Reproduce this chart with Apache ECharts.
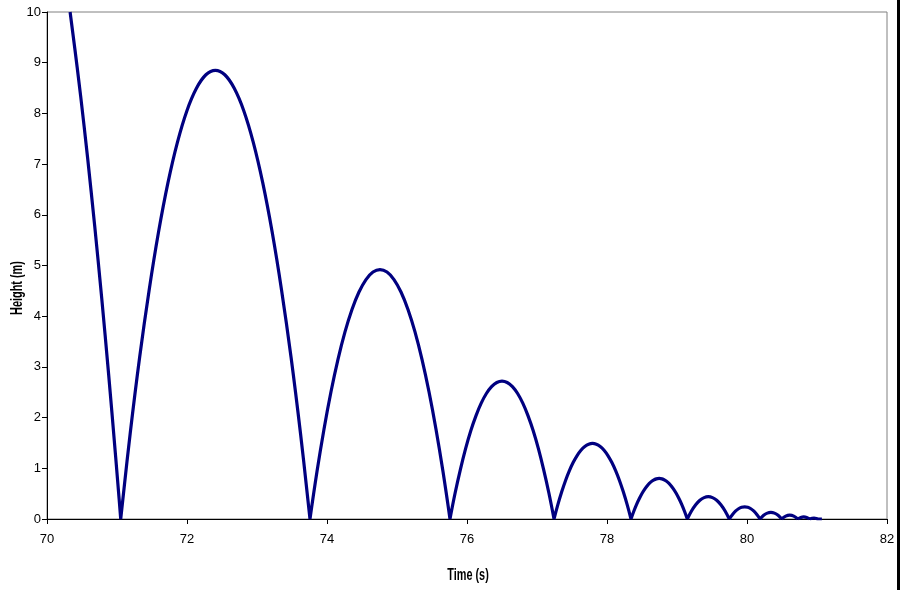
<!DOCTYPE html>
<html>
<head>
<meta charset="utf-8">
<script src="https://cdn.jsdelivr.net/npm/echarts@6/dist/echarts.min.js"></script>
<style>
html,body{margin:0;padding:0;background:#fff;}
#chart{width:900px;height:594px;}
</style>
</head>
<body>
<div id="chart"></div>
<script>
// Time (s) and height (m); null separates bounces
const times = [
  70.33, 70.43, 70.53, 70.63, 70.73, 70.83, 70.93, 71.03, 71.053, null,
  71.053, 71.188, 71.323, 71.459, 71.594, 71.729, 71.864, 71.999, 72.135, 72.270, 72.405, 72.540, 72.675, 72.811, 72.946, 73.081, 73.216, 73.351, 73.487, 73.622, 73.757, null,
  73.757, 73.857, 73.957, 74.057, 74.157, 74.257, 74.357, 74.457, 74.557, 74.657, 74.757, 74.857, 74.957, 75.057, 75.157, 75.257, 75.357, 75.457, 75.557, 75.657, 75.757, null,
  75.757, 75.831, 75.906, 75.980, 76.054, 76.129, 76.203, 76.277, 76.351, 76.426, 76.500, 76.574, 76.649, 76.723, 76.797, 76.871, 76.946, 77.020, 77.094, 77.169, 77.243, null,
  77.243, 77.298, 77.353, 77.408, 77.463, 77.518, 77.573, 77.628, 77.683, 77.738, 77.793, 77.848, 77.903, 77.958, 78.013, 78.068, 78.123, 78.178, 78.233, 78.288, 78.343, null,
  78.343, 78.383, 78.423, 78.464, 78.504, 78.544, 78.584, 78.624, 78.665, 78.705, 78.745, 78.785, 78.825, 78.866, 78.906, 78.946, 78.986, 79.026, 79.067, 79.107, 79.147, null,
  79.147, 79.207, 79.267, 79.327, 79.387, 79.447, 79.507, 79.567, 79.627, 79.687, 79.747, null,
  79.747, 79.791, 79.835, 79.879, 79.923, 79.967, 80.011, 80.055, 80.099, 80.143, 80.187, null,
  80.187, 80.238, 80.290, 80.341, 80.392, 80.444, 80.495, null,
  80.495, 80.553, 80.610, 80.668, 80.725, null,
  80.725, 80.768, 80.810, 80.853, 80.895, null,
  80.895, 80.958, 81.020, 81.070
];
const heights = [
  10.00, 8.92, 7.75, 6.47, 5.10, 3.63, 2.06, 0.40, 0, null,
  0, 1.682, 3.186, 4.514, 5.664, 6.638, 7.434, 8.054, 8.496, 8.762, 8.85, 8.762, 8.496, 8.054, 7.434, 6.638, 5.664, 4.514, 3.186, 1.682, 0, null,
  0, 0.935, 1.771, 2.509, 3.149, 3.69, 4.133, 4.477, 4.723, 4.871, 4.92, 4.871, 4.723, 4.477, 4.133, 3.69, 3.149, 2.509, 1.771, 0.935, 0, null,
  0, 0.517, 0.979, 1.387, 1.741, 2.04, 2.285, 2.475, 2.611, 2.693, 2.72, 2.693, 2.611, 2.475, 2.285, 2.04, 1.741, 1.387, 0.979, 0.517, 0, null,
  0, 0.283, 0.536, 0.760, 0.954, 1.118, 1.252, 1.356, 1.430, 1.475, 1.49, 1.475, 1.430, 1.356, 1.252, 1.118, 0.954, 0.760, 0.536, 0.283, 0, null,
  0, 0.152, 0.288, 0.408, 0.512, 0.60, 0.672, 0.728, 0.768, 0.792, 0.80, 0.792, 0.768, 0.728, 0.672, 0.60, 0.512, 0.408, 0.288, 0.152, 0, null,
  0, 0.158, 0.282, 0.370, 0.422, 0.44, 0.422, 0.370, 0.282, 0.158, 0, null,
  0, 0.086, 0.154, 0.202, 0.230, 0.24, 0.230, 0.202, 0.154, 0.086, 0, null,
  0, 0.072, 0.116, 0.13, 0.116, 0.072, 0, null,
  0, 0.056, 0.075, 0.056, 0, null,
  0, 0.03, 0.04, 0.03, 0, null,
  0, 0.02, 0, 0
];
const xTicks = [70, 72, 74, 76, 78, 80, 82];
const yTicks = [0, 1, 2, 3, 4, 5, 6, 7, 8, 9, 10];
const xTitle = 'Time (s)';
const yTitle = 'Height (m)';

const FONT = '"Liberation Sans", Arial, sans-serif';
const data = times.map((t, i) => (t === null || heights[i] === null) ? ['-', '-'] : [t, heights[i]]);

const chart = echarts.init(document.getElementById('chart'), null, {renderer: 'canvas'});
chart.setOption({
  animation: false,
  backgroundColor: '#ffffff',
  grid: {left: 47, right: 13, top: 12, bottom: 75, show: true, borderColor: '#808080', borderWidth: 1, backgroundColor: 'transparent'},
  xAxis: {
    type: 'value', min: xTicks[0], max: xTicks[xTicks.length - 1], interval: 2,
    axisLine: {show: true, onZero: false, lineStyle: {color: '#000', width: 1}},
    axisTick: {show: true, inside: false, length: 5, lineStyle: {color: '#000'}},
    axisLabel: {fontFamily: FONT, fontSize: 13, color: '#000', margin: 14},
    splitLine: {show: false}
  },
  yAxis: {
    type: 'value', min: yTicks[0], max: yTicks[yTicks.length - 1], interval: 1,
    axisLine: {show: true, onZero: false, lineStyle: {color: '#000', width: 1}},
    axisTick: {show: true, inside: false, length: 5, lineStyle: {color: '#000'}},
    axisLabel: {fontFamily: FONT, fontSize: 13, color: '#000', margin: 6},
    splitLine: {show: false}
  },
  graphic: [
    {type: 'text', x: 468, y: 576, scaleX: 0.68,
     style: {text: xTitle, font: 'bold 16px ' + FONT, fill: '#000', align: 'center', verticalAlign: 'middle'}},
    {type: 'text', x: 18, y: 288, rotation: Math.PI / 2, scaleX: 0.68,
     style: {text: yTitle, font: 'bold 16px ' + FONT, fill: '#000', align: 'center', verticalAlign: 'middle'}},
    {type: 'rect', shape: {x: 897, y: 0, width: 3, height: 590}, style: {fill: '#000'}}
  ],
  series: [{
    type: 'line',
    data: data,
    smooth: 0.4,
    connectNulls: false,
    showSymbol: false,
    symbol: 'none',
    lineStyle: {color: '#000080', width: 3.2},
    clip: true
  }]
});
</script>
</body>
</html>
